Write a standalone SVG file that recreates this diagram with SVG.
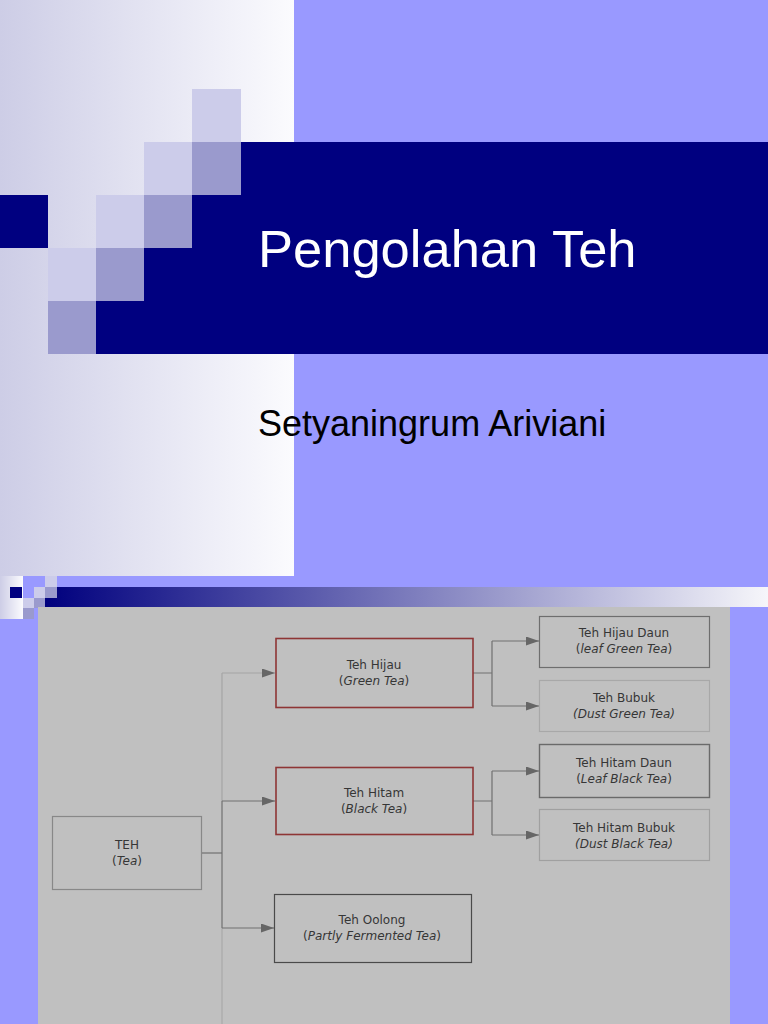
<svg xmlns="http://www.w3.org/2000/svg" width="768" height="1024" viewBox="0 0 768 1024">
<defs>
<linearGradient id="panel" x1="0" y1="0" x2="1" y2="0">
<stop offset="0" stop-color="#cdcde6"/>
<stop offset="1" stop-color="#fbfbfe"/>
</linearGradient>
<linearGradient id="bar" x1="0" y1="0" x2="1" y2="0">
<stop offset="0" stop-color="#00007e"/>
<stop offset="1" stop-color="#f6f6fa"/>
</linearGradient>
<marker id="arr" markerWidth="13" markerHeight="9" refX="13" refY="4.5" orient="auto" markerUnits="userSpaceOnUse">
<path d="M0,0 L13,4.5 L0,9 z" fill="#666"/>
</marker>
<style>
.lt{fill:#ccccea}
.md{fill:#9a9acd}
.nv{fill:#000080}
.t{font-family:"DejaVu Sans",Verdana,sans-serif;font-size:12px;fill:#363636;text-anchor:middle}
.i{font-style:italic}
.c{fill:none;stroke:#707070;stroke-width:1.2}
.box{fill:#c0c0c0}
</style>
</defs>
<rect width="768" height="1024" fill="#9999ff"/>
<!-- title slide -->
<rect x="0" y="0" width="294" height="576" fill="url(#panel)"/>
<polygon class="nv" points="241,142 768,142 768,354 96,354 96,301 144,301 144,248 192,248 192,195 241,195"/>
<rect class="nv" x="0" y="195" width="48" height="53"/>
<rect class="lt" x="192" y="89" width="49" height="53"/>
<rect class="lt" x="144" y="142" width="48" height="53"/>
<rect class="md" x="192" y="142" width="49" height="53"/>
<rect class="lt" x="96" y="195" width="48" height="53"/>
<rect class="md" x="144" y="195" width="48" height="53"/>
<rect class="lt" x="48" y="248" width="48" height="53"/>
<rect class="md" x="96" y="248" width="48" height="53"/>
<rect class="md" x="48" y="301" width="48" height="53"/>
<text x="258" y="267" font-family="Liberation Sans, Arial, sans-serif" font-size="52.5" fill="#ffffff">Pengolahan Teh</text>
<text x="258" y="436" font-family="Liberation Sans, Arial, sans-serif" font-size="36" fill="#000000">Setyaningrum Ariviani</text>
<!-- second slide header -->
<rect x="0" y="576" width="23" height="43" fill="url(#panel)"/>
<rect x="45" y="587" width="723" height="20" fill="url(#bar)"/>
<rect class="lt" x="45" y="576" width="12" height="11"/>
<rect class="nv" x="10" y="587" width="12" height="11"/>
<rect class="lt" x="34" y="587" width="11" height="11"/>
<rect class="md" x="45" y="587" width="12" height="11"/>
<rect class="lt" x="23" y="598" width="11" height="10"/>
<rect class="md" x="34" y="598" width="11" height="10"/>
<rect class="md" x="23" y="608" width="11" height="11"/>
<rect x="38" y="607" width="692" height="417" fill="#c0c0c0"/>
<!-- connectors -->
<g id="connectors">
<path d="M202,853 H222" class="c"/>
<path d="M222,673 V801" fill="none" stroke="#a4a4a4" stroke-width="1.2"/>
<path d="M222,801 V928" class="c"/>
<path d="M222,928 V1024" fill="none" stroke="#a8a8a8" stroke-width="1.2"/>
<path d="M222,673 H275" fill="none" stroke="#a4a4a4" stroke-width="1.2" marker-end="url(#arr)"/>
<path d="M222,801 H275" class="c" marker-end="url(#arr)"/>
<path d="M222,928 H274" class="c" marker-end="url(#arr)"/>
<path d="M473,673 H492 M492,641 V706" class="c"/>
<path d="M492,641 H539" class="c" marker-end="url(#arr)"/>
<path d="M492,706 H539" class="c" marker-end="url(#arr)"/>
<path d="M473,801 H492 M492,771 V835" class="c"/>
<path d="M492,771 H539" class="c" marker-end="url(#arr)"/>
<path d="M492,835 H539" class="c" marker-end="url(#arr)"/>
</g>
<!-- nodes -->
<g id="teh">
<rect class="box" x="52.5" y="816.5" width="149" height="73" stroke="#888" stroke-width="1.2"/>
<text class="t" x="127" y="849">TEH</text>
<text class="t" x="127" y="865">(<tspan class="i">Tea</tspan>)</text>
</g>
<g id="teh-hijau">
<rect class="box" x="276" y="638.5" width="197" height="69" stroke="#8e3535" stroke-width="1.6"/>
<text class="t" x="374" y="669">Teh Hijau</text>
<text class="t" x="374" y="685">(<tspan class="i">Green Tea</tspan>)</text>
</g>
<g id="teh-hitam">
<rect class="box" x="276" y="767.5" width="197" height="67" stroke="#8e3535" stroke-width="1.6"/>
<text class="t" x="374" y="797">Teh Hitam</text>
<text class="t" x="374" y="813">(<tspan class="i">Black Tea</tspan>)</text>
</g>
<g id="teh-oolong">
<rect class="box" x="274.5" y="894.5" width="197" height="68" stroke="#4a4a4a" stroke-width="1.2"/>
<text class="t" x="372" y="924">Teh Oolong</text>
<text class="t" x="372" y="940">(<tspan class="i">Partly Fermented Tea</tspan>)</text>
</g>
<g id="teh-hijau-daun">
<rect class="box" x="539.5" y="616.5" width="170" height="51" stroke="#6e6e6e" stroke-width="1.2"/>
<text class="t" x="624" y="637">Teh Hijau Daun</text>
<text class="t" x="624" y="653">(<tspan class="i">leaf Green Tea</tspan>)</text>
</g>
<g id="teh-bubuk">
<rect class="box" x="539.5" y="680.5" width="170" height="51" stroke="#a8a8a8" stroke-width="1.2"/>
<text class="t" x="624" y="702">Teh Bubuk</text>
<text class="t" x="624" y="718"><tspan class="i">(Dust Green Tea)</tspan></text>
</g>
<g id="teh-hitam-daun">
<rect class="box" x="539.5" y="744.5" width="170" height="53" stroke="#6a6a6a" stroke-width="1.4"/>
<text class="t" x="624" y="767">Teh Hitam Daun</text>
<text class="t" x="624" y="783">(<tspan class="i">Leaf Black Tea</tspan>)</text>
</g>
<g id="teh-hitam-bubuk">
<rect class="box" x="539.5" y="809.5" width="170" height="51" stroke="#a0a0a0" stroke-width="1.2"/>
<text class="t" x="624" y="832">Teh Hitam Bubuk</text>
<text class="t" x="624" y="848"><tspan class="i">(Dust Black Tea)</tspan></text>
</g>
</svg>
